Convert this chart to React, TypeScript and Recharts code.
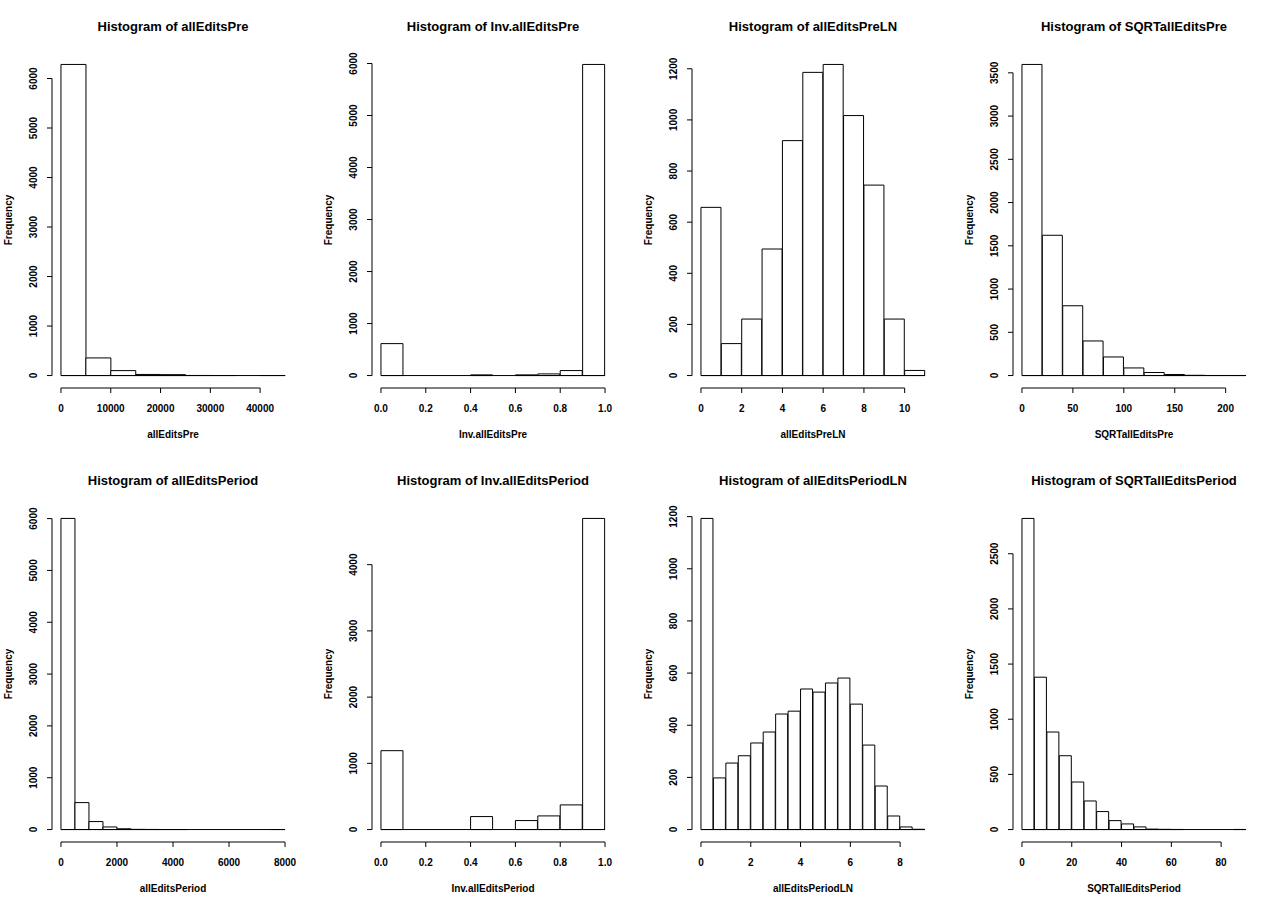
import { BarChart, Bar, XAxis, YAxis, ReferenceLine } from "recharts"

const FONT = '"Liberation Sans", Arial, Helvetica, sans-serif'

// bin edges and counts
const preBreaks = [0, 5000, 10000, 15000, 20000, 25000, 30000, 35000, 40000, 45000]
const preCounts = [6284, 356, 100, 22, 18, 2, 1, 0, 1]
const preXTicks = [0, 10000, 20000, 30000, 40000]
const preYTicks = [0, 1000, 2000, 3000, 4000, 5000, 6000]

const invPreBreaks = [0, 0.1, 0.2, 0.3, 0.4, 0.5, 0.6, 0.7, 0.8, 0.9, 1.0]
const invPreCounts = [614, 0, 0, 0, 13, 0, 13, 32, 96, 5982]
const invXTicks = [0, 0.2, 0.4, 0.6, 0.8, 1.0]
const invPreYTicks = [0, 1000, 2000, 3000, 4000, 5000, 6000]

const preLNBreaks = [0, 1, 2, 3, 4, 5, 6, 7, 8, 9, 10, 11]
const preLNCounts = [658, 125, 221, 495, 919, 1186, 1217, 1017, 745, 221, 20]
const preLNXTicks = [0, 2, 4, 6, 8, 10]
const preLNYTicks = [0, 200, 400, 600, 800, 1000, 1200]

const sqrtPreBreaks = [0, 20, 40, 60, 80, 100, 120, 140, 160, 180, 200, 220]
const sqrtPreCounts = [3597, 1622, 807, 400, 215, 88, 35, 12, 3, 1, 1]
const sqrtPreXTicks = [0, 50, 100, 150, 200]
const sqrtPreYTicks = [0, 500, 1000, 1500, 2000, 2500, 3000, 3500]

const periodBreaks = [0, 500, 1000, 1500, 2000, 2500, 3000, 3500, 4000, 4500, 5000, 5500, 6000, 6500, 7000, 7500, 8000]
const periodCounts = [6003, 520, 154, 50, 15, 4, 2, 1, 1, 0, 0, 0, 0, 0, 0, 1]
const periodXTicks = [0, 2000, 4000, 6000, 8000]
const periodYTicks = [0, 1000, 2000, 3000, 4000, 5000, 6000]

const invPeriodBreaks = [0, 0.1, 0.2, 0.3, 0.4, 0.5, 0.6, 0.7, 0.8, 0.9, 1.0]
const invPeriodCounts = [1191, 0, 0, 0, 196, 0, 136, 206, 372, 4698]
const invPeriodYTicks = [0, 1000, 2000, 3000, 4000]

const periodLNBreaks = [0, 0.5, 1, 1.5, 2, 2.5, 3, 3.5, 4, 4.5, 5, 5.5, 6, 6.5, 7, 7.5, 8, 8.5, 9]
const periodLNCounts = [1193, 198, 255, 283, 332, 374, 443, 454, 539, 527, 562, 581, 481, 324, 167, 52, 10, 1]
const periodLNXTicks = [0, 2, 4, 6, 8]
const periodLNYTicks = [0, 200, 400, 600, 800, 1000, 1200]

const sqrtPeriodBreaks = [0, 5, 10, 15, 20, 25, 30, 35, 40, 45, 50, 55, 60, 65, 70, 75, 80, 85, 90]
const sqrtPeriodCounts = [2820, 1381, 884, 669, 431, 259, 163, 81, 51, 24, 4, 2, 1, 0, 0, 0, 0, 1]
const sqrtPeriodXTicks = [0, 20, 40, 60, 80]
const sqrtPeriodYTicks = [0, 500, 1000, 1500, 2000, 2500]

const PANEL_W = 320
const PANEL_H = 454
const Y_AXIS_W = 52
const X_AXIS_H = 66
const TOP = 52
const RIGHT = 26

const textStyle = { fill: "#000", fontSize: 10, fontWeight: "bold", fontFamily: FONT }

const YTick = (props: any) => {
  const { x, y, payload } = props
  const cx = x - 13
  return (
    <text
      x={cx}
      y={y}
      transform={`rotate(-90 ${cx} ${y})`}
      textAnchor="middle"
      dominantBaseline="central"
      {...textStyle}
    >
      {payload.value}
    </text>
  )
}

type HistProps = {
  title: string
  xLabel: string
  breaks: number[]
  counts: number[]
  xTicks: number[]
  yTicks: number[]
  decimals?: number
  left: number
  top: number
}

function Histogram({ title, xLabel, breaks, counts, xTicks, yTicks, decimals, left, top }: HistProps) {
  const data = counts.map((count, i) => ({ mid: (breaks[i] + breaks[i + 1]) / 2, count }))
  const lo = breaks[0]
  const hi = breaks[breaks.length - 1]
  const xr = hi - lo
  const maxC = Math.max(...counts)
  const xDomain = [lo - 0.04 * xr, hi + 0.04 * xr]
  const yDomain = [-0.04 * maxC, 1.04 * maxC]

  return (
    <div style={{ position: "absolute", left, top, width: PANEL_W, height: PANEL_H }}>
      <div
        style={{
          position: "absolute",
          left: Y_AXIS_W,
          width: PANEL_W - Y_AXIS_W - RIGHT,
          top: 19,
          textAlign: "center",
          fontFamily: FONT,
          fontWeight: "bold",
          fontSize: 13,
          lineHeight: "16px",
          color: "#000",
          whiteSpace: "nowrap",
        }}
      >
        {title}
      </div>
      <BarChart
        width={PANEL_W}
        height={PANEL_H}
        data={data}
        margin={{ top: TOP, right: RIGHT, bottom: 0, left: 0 }}
        barCategoryGap={0}
        barGap={0}
      >
        <XAxis
          dataKey="mid"
          type="number"
          domain={xDomain}
          allowDataOverflow
          ticks={xTicks}
          interval={0}
          height={X_AXIS_H}
          axisLine={false}
          tickLine={{ stroke: "#000" }}
          tickSize={5}
          tickMargin={12}
          tick={textStyle}
          tickFormatter={(v: number) => (decimals ? v.toFixed(decimals) : String(v))}
          label={{
            content: (p: any) => (
              <text
                x={p.viewBox.x + p.viewBox.width / 2}
                y={p.viewBox.y + 46}
                textAnchor="middle"
                dominantBaseline="central"
                {...textStyle}
              >
                {xLabel}
              </text>
            ),
          }}
        />
        <YAxis
          type="number"
          domain={yDomain}
          allowDataOverflow
          ticks={yTicks}
          interval={0}
          width={Y_AXIS_W}
          axisLine={false}
          tickLine={{ stroke: "#000" }}
          tickSize={5}
          tickMargin={0}
          tick={<YTick />}
          label={{
            content: (p: any) => {
              const cx = 8.5
              const cy = p.viewBox.y + p.viewBox.height / 2
              return (
                <text
                  x={cx}
                  y={cy}
                  transform={`rotate(-90 ${cx} ${cy})`}
                  textAnchor="middle"
                  dominantBaseline="central"
                  {...textStyle}
                >
                  Frequency
                </text>
              )
            },
          }}
        />
        <ReferenceLine
          segment={[{ x: lo, y: 0 }, { x: hi, y: 0 }]}
          stroke="#000"
          strokeWidth={1}
          ifOverflow="visible"
        />
        <ReferenceLine
          segment={[{ x: xTicks[0], y: yDomain[0] }, { x: xTicks[xTicks.length - 1], y: yDomain[0] }]}
          stroke="#000"
          strokeWidth={1}
          ifOverflow="visible"
        />
        <ReferenceLine
          segment={[{ x: xDomain[0], y: 0 }, { x: xDomain[0], y: yTicks[yTicks.length - 1] }]}
          stroke="#000"
          strokeWidth={1}
          ifOverflow="visible"
        />
        <Bar dataKey="count" fill="#fff" stroke="#000" strokeWidth={1} isAnimationActive={false} />
      </BarChart>
    </div>
  )
}

export default function App() {
  return (
    <div style={{ position: "absolute", left: 0, top: 0, width: 1281, height: 908, background: "#fff" }}>
      <Histogram title="Histogram of allEditsPre" xLabel="allEditsPre" breaks={preBreaks} counts={preCounts} xTicks={preXTicks} yTicks={preYTicks} left={0} top={0} />
      <Histogram title="Histogram of Inv.allEditsPre" xLabel="Inv.allEditsPre" breaks={invPreBreaks} counts={invPreCounts} xTicks={invXTicks} yTicks={invPreYTicks} decimals={1} left={320} top={0} />
      <Histogram title="Histogram of allEditsPreLN" xLabel="allEditsPreLN" breaks={preLNBreaks} counts={preLNCounts} xTicks={preLNXTicks} yTicks={preLNYTicks} left={640} top={0} />
      <Histogram title="Histogram of SQRTallEditsPre" xLabel="SQRTallEditsPre" breaks={sqrtPreBreaks} counts={sqrtPreCounts} xTicks={sqrtPreXTicks} yTicks={sqrtPreYTicks} left={961} top={0} />
      <Histogram title="Histogram of allEditsPeriod" xLabel="allEditsPeriod" breaks={periodBreaks} counts={periodCounts} xTicks={periodXTicks} yTicks={periodYTicks} left={0} top={454} />
      <Histogram title="Histogram of Inv.allEditsPeriod" xLabel="Inv.allEditsPeriod" breaks={invPeriodBreaks} counts={invPeriodCounts} xTicks={invXTicks} yTicks={invPeriodYTicks} decimals={1} left={320} top={454} />
      <Histogram title="Histogram of allEditsPeriodLN" xLabel="allEditsPeriodLN" breaks={periodLNBreaks} counts={periodLNCounts} xTicks={periodLNXTicks} yTicks={periodLNYTicks} left={640} top={454} />
      <Histogram title="Histogram of SQRTallEditsPeriod" xLabel="SQRTallEditsPeriod" breaks={sqrtPeriodBreaks} counts={sqrtPeriodCounts} xTicks={sqrtPeriodXTicks} yTicks={sqrtPeriodYTicks} left={961} top={454} />
    </div>
  )
}
